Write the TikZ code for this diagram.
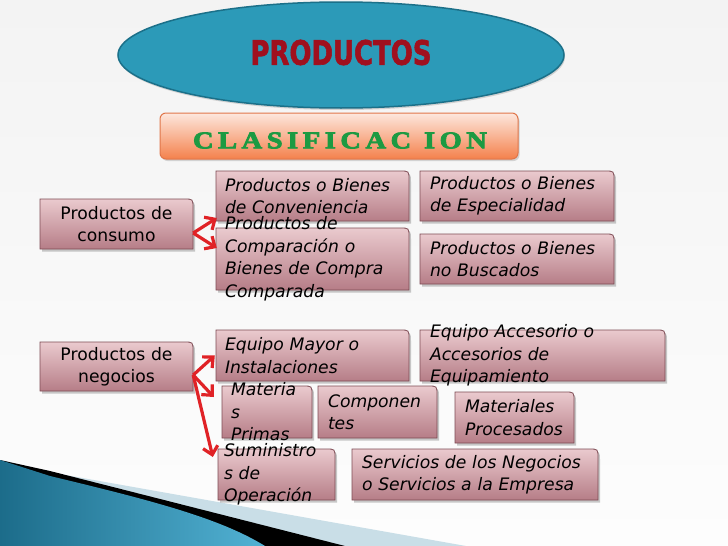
\documentclass[tikz,border=0pt]{standalone}
\usepackage{fontspec}
\setmainfont{DejaVu Sans}
\newfontfamily\titlefont[BoldFeatures={FakeBold=2}]{DejaVu Sans}
\newfontfamily\clasfont[BoldFeatures={FakeBold=3},LetterSpace=16]{Liberation Serif}
\usetikzlibrary{arrows.meta,shadows,shapes.geometric}
\definecolor{bgtop}{HTML}{F3F3F3}
\definecolor{bgbot}{HTML}{FDFDFD}
\definecolor{ellfill}{HTML}{2C9AB8}
\definecolor{ellline}{HTML}{1B7089}
\definecolor{prodred}{HTML}{A0101E}
\definecolor{clastop}{HTML}{FDE7DD}
\definecolor{clasbot}{HTML}{F4814C}
\definecolor{clasline}{HTML}{E0764A}
\definecolor{clasgreen}{HTML}{1C9A42}
\definecolor{boxtop}{HTML}{EACACE}
\definecolor{boxbot}{HTML}{B67D87}
\definecolor{boxline}{HTML}{7E4B54}
\definecolor{arrred}{HTML}{E02226}
\definecolor{bluedark}{HTML}{1C6C8A}
\definecolor{bluelight}{HTML}{52B2D4}
\definecolor{bandlight}{HTML}{C9DEE7}
\tikzset{
  boxshape/.style={top color=boxtop,bottom color=boxbot,draw=boxline,line width=0.8pt,
    drop shadow={shadow xshift=2pt,shadow yshift=-2.5pt,opacity=0.35,fill=black!60}},
  itext/.style={font=\itshape\fontsize{17.2}{22.5}\selectfont,align=left,inner xsep=9pt,inner ysep=0pt},
  ntext/.style={font=\fontsize{17.2}{22}\selectfont,align=center,inner sep=0pt},
  arr/.style={draw=arrred,line width=3.2pt,-{Straight Barb[length=8pt,width=15pt]}},
}
\newcommand\pbox[8][9]{% [inner xsep] style, name, x1,y1,x2,y2, text
  \path[boxshape] (#4,#7) -- (#4,#5) -- (#6-9,#5) .. controls (#6,#5) .. (#6,#5+9) -- (#6,#7) -- cycle;
  \pgfmathsetmacro\pbw{#6-#4}%
  \pgfmathsetmacro\pbh{#7-#5}%
  \pgfmathsetmacro\pbt{#6-#4-2*#1}%
  \pgfmathsetmacro\pbx{(#4+#6)/2}%
  \pgfmathsetmacro\pby{(#5+#7)/2}%
  \node[#2,inner xsep=#1pt,minimum width=\pbw pt,minimum height=\pbh pt,text width=\pbt pt] (#3) at (\pbx,\pby) {#8};
}
\begin{document}
\begin{tikzpicture}[x=1pt,y=-1pt]
\useasboundingbox (0,0) rectangle (728,546);
\shade[top color=bgtop,bottom color=bgbot] (0,0) rectangle (728,546);
% bottom-left decoration
\fill[bandlight] (0,460) -- (60,474) -- (466,546) -- (0,546) -- cycle;
\fill[black] (0,460) -- (50,471) -- (345,546) -- (0,546) -- cycle;
\shade[left color=bluedark,right color=bluelight] (0,460) -- (50,476) .. controls (150,500) and (220,518) .. (265,546) -- (0,546) -- cycle;
% title ellipse
\node[ellipse,minimum width=446pt,minimum height=106pt,fill=ellfill,draw=ellline,line width=1.5pt,
  drop shadow={shadow xshift=1pt,shadow yshift=-2pt,opacity=0.3}] (ell) at (341,55) {};
\node[text=prodred,inner sep=0pt] (prod) at (341,52.5) {\resizebox{181pt}{25pt}{\titlefont\bfseries PRODUCTOS}};
% clasificacion
\node[rounded corners=6pt,minimum width=358pt,minimum height=46pt,top color=clastop,bottom color=clasbot,
  draw=clasline,line width=1pt,drop shadow={shadow xshift=1.5pt,shadow yshift=-2pt,opacity=0.3}] (clas) at (339,136) {};
\node[text=clasgreen,inner sep=0pt] (clast) at (340,140.5) {\resizebox{294pt}{16pt}{\clasfont\bfseries CLASIFICAC\kern0.45em ION}};
% boxes
\pbox{ntext}{consumo}{40}{199}{193}{249}{Productos de\\consumo}
\pbox{itext}{conv}{216}{171}{409}{221}{Productos o Bienes\\de Conveniencia}
\pbox{itext}{comp}{216}{228}{409}{290}{Productos de\\Comparación o\\Bienes de Compra\\Comparada}
\pbox[10]{itext}{espec}{420}{171}{614}{221}{Productos o Bienes\\de Especialidad}
\pbox[10]{itext}{nobus}{420}{234}{614}{284}{Productos o Bienes\\no Buscados}
\pbox{ntext}{negocios}{40}{342}{193}{391}{Productos de\\negocios}
\pbox{itext}{mayor}{216}{330}{409}{381}{Equipo Mayor o\\Instalaciones}
\pbox[10]{itext}{acces}{420}{330}{665}{381}{Equipo Accesorio o\\Accesorios de\\Equipamiento}
\pbox[9]{itext}{materia}{222}{386}{312}{438}{Materia\\s\\Primas}
\pbox[10]{itext}{compo}{318}{386}{437}{438}{Componen\\tes}
\pbox[10]{itext}{matproc}{455}{392}{574}{443}{Materiales\\Procesados}
\pbox[6]{itext}{sumin}{218}{449}{335}{500}{Suministro\\s de\\Operación}
\pbox[10]{itext}{serv}{352}{449}{598}{500}{Servicios de los Negocios\\o Servicios a la Empresa}
% arrows
\draw[arr] ([yshift=-9pt]consumo.east) -- ([xshift=1pt,yshift=-22pt]conv.west);
\draw[arr] ([yshift=-9pt]consumo.east) -- ([xshift=1pt,yshift=11pt]comp.west);
\draw[arr] ([yshift=-8.5pt]negocios.east) -- ([xshift=-1pt,yshift=0pt]mayor.west);
\draw[arr] ([yshift=-8.5pt]negocios.east) -- ([xshift=-8pt,yshift=15pt]materia.west);
\draw[arr] ([yshift=-8.5pt]negocios.east) -- ([xshift=-5pt,yshift=17.5pt]sumin.west);
\end{tikzpicture}
\end{document}
